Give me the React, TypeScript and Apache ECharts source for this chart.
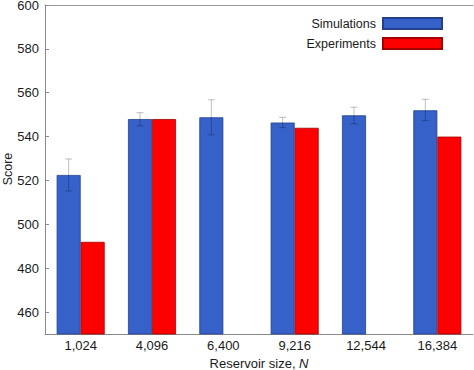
import React, { useEffect, useRef } from "react";
import * as echarts from "echarts";

const categories = ["1,024", "4,096", "6,400", "9,216", "12,544", "16,384"];
const simulations = [522.5, 548, 548.8, 546.4, 549.7, 552];
const simErrLow = [515.2, 544.9, 540.8, 544.1, 545.9, 547.3];
const simErrHigh = [529.8, 550.9, 556.8, 548.8, 553.4, 557];
const experiments: (number | null)[] = [492, 548, null, 544, null, 540];
const yTitle = "Score";

const FONT = "'Liberation Sans', Arial, Helvetica, sans-serif";
const BAR_W = 24;

export default function App() {
  const ref = useRef<HTMLDivElement>(null);
  useEffect(() => {
    if (!ref.current) return;
    const chart = echarts.init(ref.current, undefined, { renderer: "svg" });
    const errData = categories.map((_, i) => [i, simErrLow[i], simErrHigh[i]]);
    chart.setOption({
      animation: false,
      textStyle: { fontFamily: FONT },
      grid: { left: 45, right: 1, top: 5, bottom: 36, containLabel: false, outerBoundsMode: "none" },
      legend: {
        orient: "vertical",
        right: 26,
        top: 12,
        align: "right",
        itemWidth: 59,
        itemHeight: 11,
        itemGap: 7,
        icon: "rect",
        textStyle: { fontSize: 12.5, color: "#1a1a1a", fontFamily: FONT, padding: [0, 2, 0, 0] },
        data: ["Simulations", "Experiments"],
      },
      graphic: [
        {
          type: "text",
          x: 8,
          y: 169,
          rotation: Math.PI / 2,
          style: {
            text: yTitle,
            fontSize: 12.5,
            fontFamily: FONT,
            fill: "#1a1a1a",
            align: "center",
            verticalAlign: "middle",
          },
        },
      ],
      xAxis: [
        {
          type: "category",
          data: categories,
          axisLine: { lineStyle: { color: "#8a8a8a", width: 1 } },
          axisTick: { show: false },
          axisLabel: { color: "#1a1a1a", fontSize: 13, margin: 5, fontFamily: FONT },
          name: "{a|Reservoir size, }{b|N}",
          nameLocation: "middle",
          nameGap: 22,
          nameTextStyle: {
            lineHeight: 14,
            rich: {
              a: { fontSize: 13, lineHeight: 14, color: "#1a1a1a", fontFamily: FONT },
              b: { fontSize: 13, lineHeight: 14, color: "#1a1a1a", fontStyle: "italic", fontFamily: FONT },
            },
          },
        },
        {
          type: "category",
          data: categories,
          position: "top",
          axisLine: { show: true, lineStyle: { color: "#9a9a9a", width: 1 } },
          axisTick: { show: false },
          axisLabel: { show: false },
        },
      ],
      yAxis: {
        type: "value",
        min: 450,
        max: 600,
        splitNumber: 8,
        splitLine: { show: false },
        axisLine: { show: true, lineStyle: { color: "#8a8a8a", width: 1 } },
        axisTick: { show: true, inside: true, length: 4, lineStyle: { color: "#8a8a8a" } },
        axisLabel: { color: "#1a1a1a", fontSize: 13, margin: 6, showMinLabel: false, fontFamily: FONT },
      },
      series: [
        {
          name: "Simulations",
          type: "bar",
          data: simulations,
          barWidth: BAR_W,
          barGap: "0%",
          itemStyle: { color: "#3561c8", borderColor: "#24408a", borderWidth: 0.8 },
        },
        {
          name: "Experiments",
          type: "bar",
          data: experiments,
          barWidth: BAR_W,
          barGap: "0%",
          itemStyle: { color: "#ff0000", borderColor: "#a00000", borderWidth: 0.8 },
        },
        {
          type: "custom",
          name: "err",
          data: errData,
          z: 10,
          renderItem: (params: any, api: any) => {
            const idx = api.value(0);
            const lo = api.coord([idx, api.value(1)]);
            const hi = api.coord([idx, api.value(2)]);
            const x = lo[0] - BAR_W / 2;
            const cap = 3.5;
            const style = { stroke: "rgba(0,0,0,0.25)", lineWidth: 1 };
            return {
              type: "group",
              children: [
                { type: "line", shape: { x1: x, y1: lo[1], x2: x, y2: hi[1] }, style },
                { type: "line", shape: { x1: x - cap, y1: lo[1], x2: x + cap, y2: lo[1] }, style },
                { type: "line", shape: { x1: x - cap, y1: hi[1], x2: x + cap, y2: hi[1] }, style },
              ],
            };
          },
        },
      ],
    });
    return () => chart.dispose();
  }, []);
  return <div ref={ref} style={{ width: 474, height: 370, position: "fixed", left: 0, top: 0, background: "#fff" }} />;
}
